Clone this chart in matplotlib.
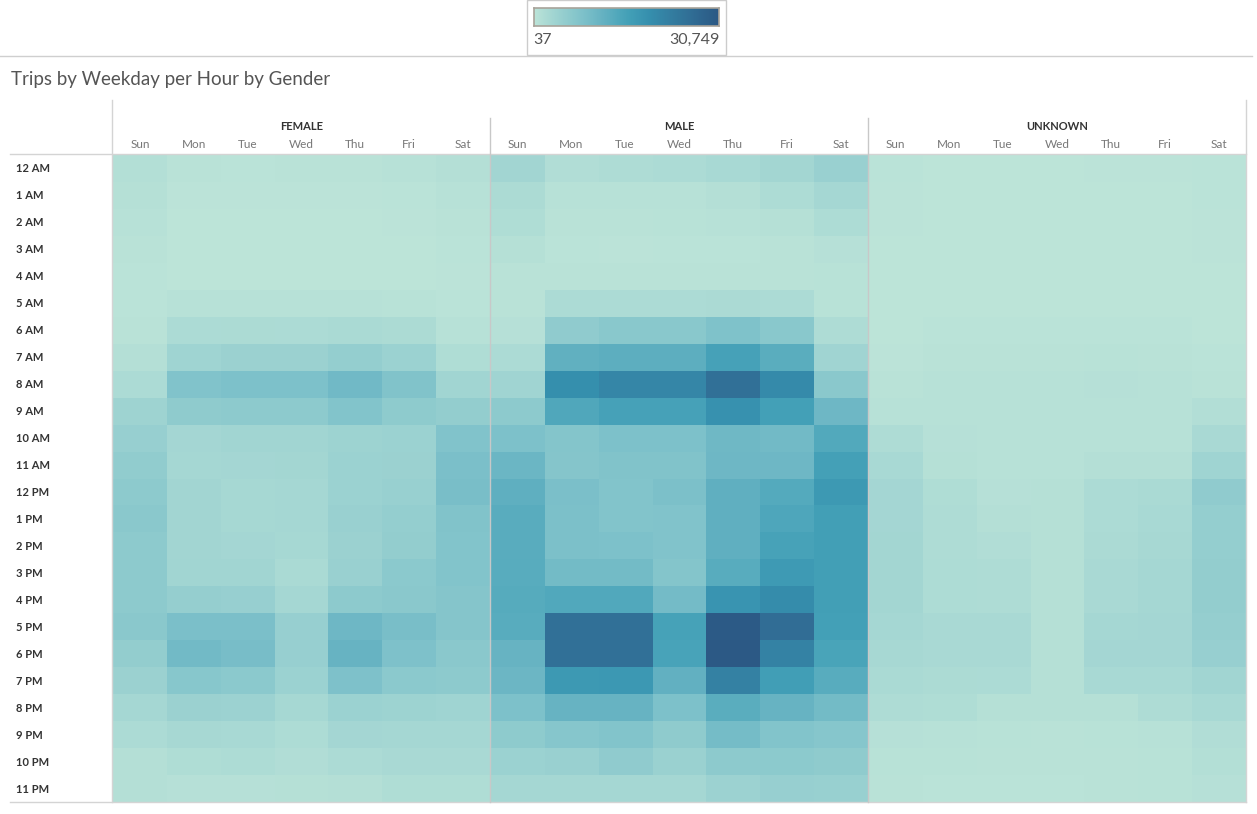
import numpy as np
import matplotlib
matplotlib.use("Agg")
import matplotlib.pyplot as plt
from matplotlib.colors import LinearSegmentedColormap, Normalize
from matplotlib.lines import Line2D
from matplotlib.patches import Rectangle

plt.rcParams['font.family'] = ['Lato', 'DejaVu Sans']

days = ['Sun', 'Mon', 'Tue', 'Wed', 'Thu', 'Fri', 'Sat']
hours = ['12 AM', '1 AM', '2 AM', '3 AM', '4 AM', '5 AM', '6 AM', '7 AM', '8 AM', '9 AM',
         '10 AM', '11 AM', '12 PM', '1 PM', '2 PM', '3 PM', '4 PM', '5 PM', '6 PM', '7 PM',
         '8 PM', '9 PM', '10 PM', '11 PM']
genders = ['FEMALE', 'MALE', 'UNKNOWN']

# trip counts, rows = hour, cols = Sun..Sat
female = [
    [1200, 400, 350, 400, 500, 700, 1000],
    [900, 200, 200, 200, 250, 350, 700],
    [700, 150, 120, 130, 150, 200, 500],
    [500, 100, 80, 90, 100, 130, 350],
    [350, 150, 120, 130, 140, 150, 250],
    [300, 700, 650, 650, 700, 600, 300],
    [500, 1900, 2000, 1900, 2300, 2000, 700],
    [1000, 3600, 4200, 4200, 5000, 4000, 1500],
    [1900, 7700, 8200, 8200, 9900, 7800, 3300],
    [3700, 5700, 6000, 6000, 7500, 5900, 5200],
    [4600, 3000, 3300, 3300, 3800, 4000, 7600],
    [5500, 2900, 3000, 3100, 4000, 4200, 8500],
    [6000, 3200, 2700, 2900, 4100, 4500, 8900],
    [6500, 3200, 2700, 2800, 4400, 5000, 7800],
    [6000, 3200, 3000, 2700, 4200, 5300, 7500],
    [6000, 3300, 3300, 2200, 4400, 6200, 7500],
    [6000, 4900, 4600, 2800, 6000, 6500, 7200],
    [6500, 8500, 8500, 4700, 10300, 8900, 7200],
    [5300, 9700, 9000, 4700, 11300, 8100, 6500],
    [4200, 6800, 6200, 4000, 8100, 6200, 6000],
    [2900, 4200, 3900, 2700, 4100, 3800, 3600],
    [1900, 2600, 2500, 1800, 3000, 2800, 2800],
    [1100, 1500, 1800, 1400, 1900, 2400, 2400],
    [1000, 800, 800, 900, 1000, 1500, 1500],
]

male = [
    [3200, 1400, 1600, 1900, 2500, 3100, 4400],
    [2000, 700, 700, 750, 1100, 1800, 2900],
    [1500, 400, 400, 550, 700, 900, 1800],
    [900, 300, 250, 300, 350, 450, 800],
    [500, 400, 400, 400, 420, 420, 550],
    [450, 1900, 1900, 1900, 2100, 1900, 600],
    [800, 5600, 6600, 6600, 8000, 6600, 1700],
    [1900, 12000, 12500, 12500, 15500, 12800, 3400],
    [3400, 19300, 21000, 21000, 25700, 20300, 6500],
    [6000, 14000, 15400, 15400, 18800, 15800, 10300],
    [8300, 7300, 8300, 8200, 10200, 9800, 13800],
    [10700, 7200, 7800, 7800, 10300, 10300, 15700],
    [12200, 8500, 7500, 8400, 12100, 13500, 17200],
    [12900, 8400, 7500, 7600, 12100, 14300, 16000],
    [12900, 8400, 8300, 7600, 12100, 15200, 16000],
    [13000, 9600, 9600, 7300, 13100, 17000, 16000],
    [13300, 13900, 13900, 9400, 18200, 19900, 16000],
    [13000, 25600, 25600, 15300, 30500, 26200, 15800],
    [11200, 25600, 25600, 15100, 30749, 21900, 14900],
    [10500, 17300, 17500, 11800, 22100, 16200, 13100],
    [8200, 11200, 11200, 8300, 12800, 11300, 9600],
    [5800, 6900, 7500, 5700, 9300, 7500, 6900],
    [4000, 4400, 5600, 4300, 6000, 6100, 5700],
    [2900, 2900, 2900, 2900, 3900, 4600, 4500],
]

unknown = [
    [300, 150, 150, 150, 200, 250, 350],
    [250, 60, 50, 50, 80, 150, 300],
    [200, 50, 40, 40, 50, 100, 250],
    [150, 40, 37, 40, 40, 60, 200],
    [100, 50, 40, 40, 50, 60, 150],
    [80, 100, 100, 100, 150, 150, 100],
    [150, 300, 300, 300, 350, 300, 150],
    [200, 500, 500, 500, 550, 500, 300],
    [400, 700, 700, 700, 800, 700, 500],
    [700, 650, 650, 650, 700, 650, 1300],
    [1600, 800, 650, 650, 700, 650, 2400],
    [2500, 900, 750, 750, 1000, 1000, 3600],
    [3000, 1500, 800, 900, 1900, 2200, 5600],
    [3000, 1600, 1000, 900, 1900, 2500, 5000],
    [3100, 1600, 1400, 900, 2100, 2600, 5000],
    [3100, 1800, 1600, 900, 2400, 2900, 5200],
    [3100, 1800, 1700, 900, 2400, 2900, 5200],
    [2900, 2400, 2400, 900, 2900, 3000, 4900],
    [2600, 2400, 2400, 900, 3000, 3000, 4600],
    [2300, 2000, 1900, 900, 2500, 2500, 3300],
    [1700, 1500, 900, 900, 900, 1600, 2500],
    [800, 700, 600, 500, 600, 700, 1400],
    [600, 600, 500, 400, 500, 600, 1200],
    [500, 300, 300, 300, 400, 600, 800],
]

vmin, vmax = 37, 30749

blue_teal = ['#bce4d8', '#aedcd5', '#a1d5d2', '#95cecf', '#89c8cc', '#7ec1ca', '#72bac6',
             '#66b2c2', '#59acbe', '#4ba5ba', '#419eb6', '#3b96b2', '#358ead', '#3586a7',
             '#347ea1', '#32779b', '#316f96', '#2f6790', '#2d608a', '#2c5985']
cmap = LinearSegmentedColormap.from_list('blue_teal', blue_teal)
norm = Normalize(vmin, vmax)

W, H = 1257, 814
fig = plt.figure(figsize=(W / 100, H / 100), dpi=100)
fig.patch.set_facecolor('white')


def box(x0, y0, x1, y1):
    # pixel box (top-left origin) -> figure fraction rect
    return [x0 / W, 1 - y1 / H, (x1 - x0) / W, (y1 - y0) / H]


def fx(x):
    return x / W


def fy(y):
    return 1 - y / H


def hline(y, x0, x1, color='#d4d4d4', lw=1):
    fig.add_artist(Line2D([fx(x0), fx(x1)], [fy(y), fy(y)], color=color, lw=lw))


def vline(x, y0, y1, color='#d4d4d4', lw=1):
    fig.add_artist(Line2D([fx(x), fx(x)], [fy(y0), fy(y1)], color=color, lw=lw))


# heatmap panels
top, bottom = 155, 802
edges = [113, 490, 868, 1246]
for i, (name, data) in enumerate(zip(genders, [female, male, unknown])):
    x0, x1 = edges[i] + (1 if i else 0), edges[i + 1]
    ax = fig.add_axes(box(x0, top, x1, bottom))
    ax.pcolormesh(np.array(data), cmap=cmap, norm=norm, edgecolors='none')
    ax.set_xlim(0, 7)
    ax.set_ylim(24, 0)
    ax.axis('off')
    cx = (edges[i] + edges[i + 1]) / 2
    fig.text(fx(cx), fy(127), name, ha='center', va='center', fontsize=8,
             fontweight='bold', color='#333333')
    cw = (edges[i + 1] - edges[i]) / 7
    for j, d in enumerate(days):
        fig.text(fx(edges[i] + cw * (j + 0.5)), fy(145), d, ha='center', va='center',
                 fontsize=8.5, color='#777777')

# row labels
rh = (bottom - top) / 24
for k, h in enumerate(hours):
    fig.text(fx(16), fy(top + rh * (k + 0.5) + 0.5), h, ha='left', va='center',
             fontsize=8, fontweight='bold', color='#333333')

# grid lines / borders
hline(56, 0, 1252, color='#cfcfcf')
hline(154, 10, 1246)
hline(802, 10, 1246)
vline(112, 100, 802)
vline(490, 118, 802, color='#c8c8c8')
vline(868, 118, 802, color='#c8c8c8')
vline(1246, 100, 802)

# title
fig.text(fx(11), fy(79), 'Trips by Weekday per Hour by Gender', ha='left', va='center',
         fontsize=13.5, color='#555555')

# colour legend
fig.add_artist(Rectangle((fx(527), fy(55)), fx(726) - fx(527), fy(0) - fy(55),
                         facecolor='white', edgecolor='#cccccc', lw=1, zorder=-1))
cax = fig.add_axes(box(534, 8, 719, 26))
grad = np.linspace(vmin, vmax, 256).reshape(1, -1)
cax.imshow(grad, cmap=cmap, norm=norm, aspect='auto')
cax.set_xticks([])
cax.set_yticks([])
for s in cax.spines.values():
    s.set_color('#a8a39a')
    s.set_linewidth(1.2)
fig.text(fx(533), fy(40), f'{vmin:,}', ha='left', va='center', fontsize=11.5, color='#555555')
fig.text(fx(720), fy(40), f'{vmax:,}', ha='right', va='center', fontsize=11.5, color='#555555')

fig.savefig('out.png', dpi=100)
